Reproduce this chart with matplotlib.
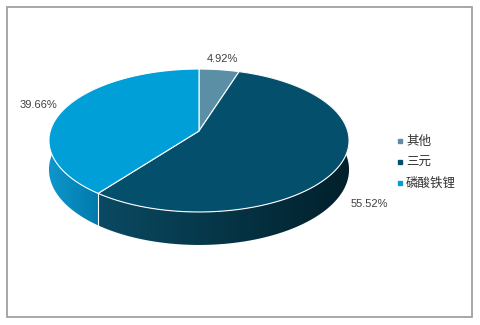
import numpy as np
import matplotlib
matplotlib.use("Agg")
import matplotlib.pyplot as plt
from matplotlib.patches import Polygon, Rectangle
from matplotlib.colors import LinearSegmentedColormap

plt.rcParams['font.family'] = ['Noto Sans CJK SC', 'DejaVu Sans']

# data
labels = ['其他', '三元', '磷酸铁锂']
shares = [4.92, 55.52, 39.66]
pct_text = ['4.92%', '55.52%', '39.66%']
top_colors = ['#5a8fa6', '#044f6b', '#009fd8']
# side shading: (colour at left edge, colour at right edge) of the visible side
side_colors = [('#4f7f93', '#3c6272'), ('#0a4a62', '#01202b'), ('#0e97cc', '#0079ab')]

# pie geometry in pixel space (3d-ish perspective)
cx, cy = 199, 131
A, B = 70.2, 148.7     # vertical / horizontal radius
k = 0.133              # perspective factor
h = 28.6               # thickness


def proj(theta, r=1.0):
    # theta in degrees, clockwise from top (back of the pie)
    t = np.radians(theta)
    x = r * np.sin(t)
    y = r * np.cos(t)
    s = 1.0 / (1.0 + k * y)
    return cx + B * x * s, cy - A * y * s, s


fig = plt.figure(figsize=(4.8, 3.25), dpi=100)
ax = fig.add_axes([0, 0, 1, 1])
ax.set_xlim(0, 480)
ax.set_ylim(325, 0)
ax.axis('off')

ax.add_patch(Rectangle((7, 7), 465, 310, fill=False, edgecolor='#a0a0a0', lw=1.3))

total = float(sum(shares))
bounds = np.concatenate([[0], np.cumsum(shares) / total * 360.0])

# sides, one polygon per slice filled with a horizontal gradient
for i in range(len(shares)):
    th = np.linspace(bounds[i], bounds[i + 1], 200)
    top = [proj(a) for a in th]
    pts = [(p[0], p[1]) for p in top] + [(p[0], p[1] + h * p[2]) for p in top[::-1]]
    poly = Polygon(pts, closed=True, facecolor='none', edgecolor='none', zorder=1)
    ax.add_patch(poly)
    # visible x range of this slice's side (front half)
    vis = [p[0] for a, p in zip(th, top) if np.cos(np.radians(a)) < 0.15]
    if not vis:
        continue
    x_lo, x_hi = min(vis), max(vis)
    cmap = LinearSegmentedColormap.from_list('s%d' % i, side_colors[i])
    grad = np.linspace(0, 1, 256).reshape(1, -1)
    xs = [p[0] for p in pts]
    ys = [p[1] for p in pts]
    im = ax.imshow(grad, cmap=cmap, aspect='auto', zorder=1,
                   extent=(x_lo, x_hi, max(ys) + 2, min(ys) - 2), interpolation='bilinear')
    im.set_clip_path(poly)
    ax.add_patch(Polygon(pts, closed=True, facecolor='none', edgecolor='none', zorder=1))

# white dividers on visible side
for b in bounds:
    if np.cos(np.radians(b)) < 0:
        x0, y0, s0 = proj(b)
        ax.plot([x0, x0], [y0, y0 + h * s0], color='white', lw=0.8, zorder=2)

# top faces
for i in range(len(shares)):
    th = np.linspace(bounds[i], bounds[i + 1], 200)
    pts = [(cx, cy)] + [proj(a)[:2] for a in th]
    ax.add_patch(Polygon(pts, closed=True, facecolor=top_colors[i], edgecolor='white',
                         lw=0.8, zorder=3))

ax.set_xlim(0, 480)
ax.set_ylim(325, 0)

# data labels
for i in range(len(shares)):
    mid = (bounds[i] + bounds[i + 1]) / 2
    lx, ly, ls = proj(mid, 1.2)
    if np.cos(np.radians(mid)) < 0:
        ly += h * ls
    ax.text(lx, ly, pct_text[i], ha='center', va='center', fontsize=8,
            family=['Liberation Sans', 'DejaVu Sans'], color='#404040', zorder=4)

# legend
for i in range(len(labels)):
    yy = 141 + i * 21
    ax.plot([400], [yy], marker='s', markersize=2.3, color=top_colors[i], lw=0, zorder=4)
    ax.text(406, yy, labels[i], ha='left', va='center', fontsize=9, color='#333333', zorder=4)

fig.savefig('out.png', dpi=100)
